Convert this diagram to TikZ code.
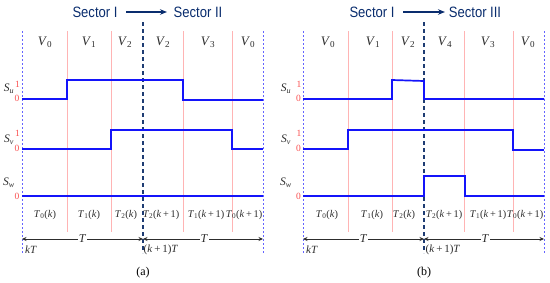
\documentclass[tikz,border=0pt]{standalone}
\usepackage{fontspec}
\setmainfont{Liberation Serif}
\newfontfamily\secfont{Liberation Sans}
\usetikzlibrary{arrows.meta}
\definecolor{sigblue}{RGB}{20,20,250}
\definecolor{dotblue}{RGB}{100,100,255}
\definecolor{pinkline}{RGB}{255,180,180}
\definecolor{midnavy}{RGB}{30,60,115}
\definecolor{secblue}{RGB}{10,45,110}
\definecolor{lvlred}{RGB}{250,80,80}
\definecolor{lblgray}{RGB}{45,45,45}
\newcommand\subl[2]{\textit{#1}\textsubscript{#2}}
\tikzset{
  sig/.style={sigblue, line width=1.7pt},
  bound/.style={dotblue, line width=1pt, dash pattern=on 2pt off 2pt},
  divider/.style={pinkline, line width=0.7pt},
  midline/.style={midnavy, line width=1.3pt, dash pattern=on 4pt off 3pt},
  vlab/.style={font=\fontsize{13}{14}\selectfont, text=lblgray, inner sep=0},
  tlab/.style={font=\fontsize{10.3}{11}\selectfont, text=lblgray, inner sep=0},
  lvl/.style={font=\fontsize{9.5}{10}\selectfont, text=lvlred, inner sep=0},
  slab/.style={font=\fontsize{11.5}{12}\selectfont, text=lblgray, inner sep=0},
  perlab/.style={font=\fontsize{12}{13}\selectfont, text=lblgray, inner sep=1pt, fill=white},
  per/.style={lblgray, line width=0.8pt, {Stealth[length=4.5pt,width=4pt]}-{Stealth[length=4.5pt,width=4pt]}},
  sectxt/.style={font=\secfont\fontsize{15}{16}\selectfont, text=secblue, inner sep=0, xscale=0.87, transform shape},
  secarrow/.style={secblue, line width=1.3pt, -{Stealth[length=7pt,width=5.5pt]}},
  captxt/.style={font=\fontsize{12}{13}\selectfont, text=black, inner sep=0}
}
\begin{document}
\begin{tikzpicture}[x=1pt,y=-1pt]
\useasboundingbox (0,0) rectangle (550,282);
\fill[white] (0,0) rectangle (550,282);

%% ===== Panel (a) =====
\begin{scope}
\foreach \x in {67,111,183,232} \draw[divider] (\x,31) -- (\x,232);
\draw[bound] (22,31) -- (22,253);
\draw[bound] (263,31) -- (263,253);
\draw[midline] (143,22) -- (143,253);
\coordinate (aL) at (22,239);
\coordinate (aM) at (143,239);
\coordinate (aR) at (263,239);
% signals
\draw[sig] (22,99) -- (67,99) -- (67,80) -- (183,80) -- (183,100) -- (263,100);
\draw[sig] (22,149) -- (111,149) -- (111,130) -- (232,130) -- (232,149) -- (263,149);
\draw[sig] (22,196) -- (263,196);
% labels
\node[slab] (aSu) at (9,89) {\subl{S}{\textit{u}}};
\node[lvl] (aSu1) at (17.5,84) {1};
\node[lvl] (aSu0) at (17,98) {0};
\node[slab] (aSv) at (9,140) {\subl{S}{\textit{v}}};
\node[lvl] (aSv1) at (17.5,133) {1};
\node[lvl] (aSv0) at (17,148) {0};
\node[slab] (aSw) at (9,183) {\subl{S}{\textit{w}}};
\node[lvl] (aSw0) at (17,196) {0};
\node[vlab] (aV0) at (45,42) {\subl{V}{0}};
\node[vlab] (aV1) at (89,42) {\subl{V}{1}};
\node[vlab] (aV2) at (125,42) {\subl{V}{2}};
\node[vlab] (aV2b) at (163,42) {\subl{V}{2}};
\node[vlab] (aV3) at (208,42) {\subl{V}{3}};
\node[vlab] (aV0b) at (248,42) {\subl{V}{0}};
\node[tlab] (aT0) at (45,215) {\subl{T}{0}(\textit{k})};
\node[tlab] (aT1) at (89,215) {\subl{T}{1}(\textit{k})};
\node[tlab] (aT2) at (126,215) {\subl{T}{2}(\textit{k})};
\node[tlab] (aT2b) at (161,215) {\subl{T}{2}(\textit{k}\,+\,1)};
\node[tlab] (aT1b) at (206,215) {\subl{T}{1}(\textit{k}\,+\,1)};
\node[tlab] (aT0b) at (244,215) {\subl{T}{0}(\textit{k}\,+\,1)};
\draw[per] (aL) -- node[perlab, pos=0.5] (aTp1) {\textit{T}} (aM);
\draw[per] (aM) -- node[perlab, pos=0.51] (aTp2) {\textit{T}} (aR);
\node[tlab, font=\fontsize{11}{12}\selectfont] (akT) at (31,250) {\textit{kT}};
\node[tlab, font=\fontsize{11}{12}\selectfont] (ak1T) at (161,250) {(\textit{k}\,+\,1)\textit{T}};
\node[captxt] (acap) at (143,273) {(a)};
\node[sectxt] (aS1) at (95,12) {Sector I};
\node[sectxt] (aS2) at (198,12) {Sector II};
\draw[secarrow] (126,12) -- (167,12);
\end{scope}

%% ===== Panel (b) =====
\begin{scope}[xshift=281pt]
\foreach \x in {67,111,183,232} \draw[divider] (\x,31) -- (\x,232);
\draw[bound] (22,31) -- (22,253);
\draw[bound] (263,31) -- (263,253);
\draw[midline] (143,22) -- (143,253);
\coordinate (bL) at (22,239);
\coordinate (bM) at (143,239);
\coordinate (bR) at (263,239);
% signals
\draw[sig] (22,99) -- (111,99) -- (111,80) -- (143,81) -- (143,99) -- (263,99);
\draw[sig] (22,149) -- (67,149) -- (67,130) -- (232,130) -- (232,150) -- (263,150);
\draw[sig] (22,196) -- (143,196) -- (143,176) -- (184,176) -- (184,196) -- (263,196);
% labels
\node[slab] (bSu) at (5,89) {\subl{S}{\textit{u}}};
\node[lvl] (bSu1) at (18,84) {1};
\node[lvl] (bSu0) at (17.5,98) {0};
\node[slab] (bSv) at (5,140) {\subl{S}{\textit{v}}};
\node[lvl] (bSv1) at (18,133) {1};
\node[lvl] (bSv0) at (17.5,148) {0};
\node[slab] (bSw) at (5,183) {\subl{S}{\textit{w}}};
\node[lvl] (bSw0) at (17.5,196) {0};
\node[vlab] (bV0) at (47,42) {\subl{V}{0}};
\node[vlab] (bV1) at (92,42) {\subl{V}{1}};
\node[vlab] (bV2) at (127,42) {\subl{V}{2}};
\node[vlab] (bV4) at (164,42) {\subl{V}{4}};
\node[vlab] (bV3) at (207,42) {\subl{V}{3}};
\node[vlab] (bV0b) at (247,42) {\subl{V}{0}};
\node[tlab] (bT0) at (46,215) {\subl{T}{0}(\textit{k})};
\node[tlab] (bT1) at (91,215) {\subl{T}{1}(\textit{k})};
\node[tlab] (bT2) at (123,215) {\subl{T}{2}(\textit{k})};
\node[tlab] (bT2b) at (163,215) {\subl{T}{2}(\textit{k}\,+\,1)};
\node[tlab] (bT1b) at (207,215) {\subl{T}{1}(\textit{k}\,+\,1)};
\node[tlab] (bT0b) at (244,215) {\subl{T}{0}(\textit{k}\,+\,1)};
\draw[per] (bL) -- node[perlab, pos=0.5] (bTp1) {\textit{T}} (bM);
\draw[per] (bM) -- node[perlab, pos=0.51] (bTp2) {\textit{T}} (bR);
\node[tlab, font=\fontsize{11}{12}\selectfont] (bkT) at (31,250) {\textit{kT}};
\node[tlab, font=\fontsize{11}{12}\selectfont] (bk1T) at (162,250) {(\textit{k}\,+\,1)\textit{T}};
\node[captxt] (bcap) at (143,273) {(b)};
\node[sectxt] (bS1) at (91,12) {Sector I};
\node[sectxt] (bS3) at (194,12) {Sector III};
\draw[secarrow] (122,12) -- (164,12);
\end{scope}
\end{tikzpicture}
\end{document}
